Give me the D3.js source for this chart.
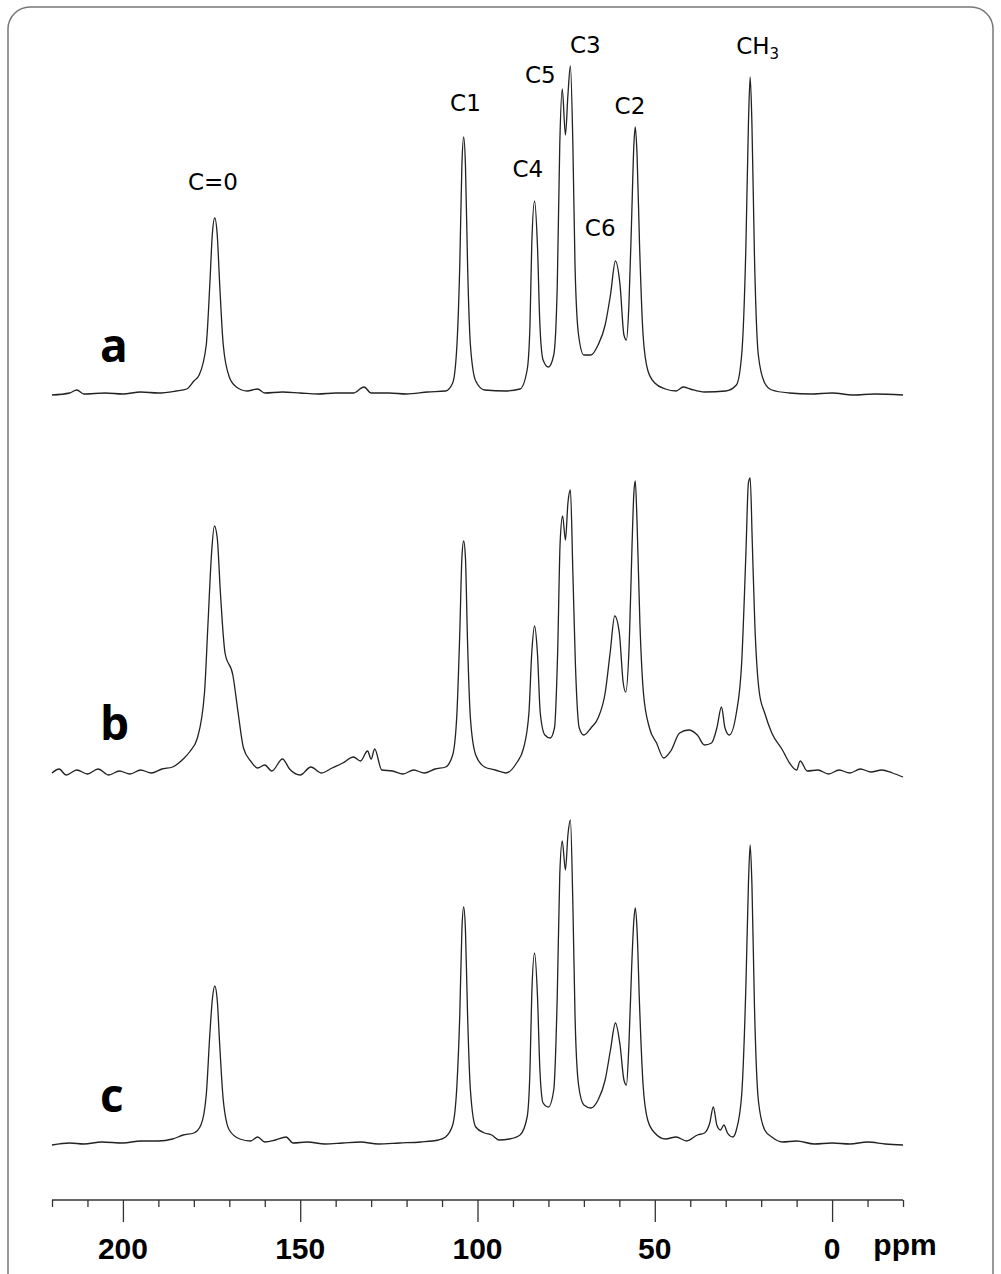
<!DOCTYPE html>
<html><head><meta charset="utf-8">
<script src="https://cdn.jsdelivr.net/npm/d3@7"></script>
<style>body{margin:0;background:#fff}</style>
</head><body>
<div id="chart"></div>
<script>
// spectra as [ppm, intensity]
var traceA = [[220,0],[215,2],[213,5],[211,1],[205,2],[200,1],[195,3],[190,2],[185,4],[182,6],[180,14],[178.5,20],[176.5,50],[175.5,110],[174.8,160],[174.1,177],[173.4,160],[172.7,110],[171.7,50],[170,18],[168,8],[165,4],[162,6],[160,2],[155,3],[150,2],[145,1],[140,2],[135,2],[132,8],[130,2],[125,2],[120,1],[114,3],
  [109,4],[107,12],[105.8,50],[105,130],[104.4,230],[103.9,258],[103.4,230],[102.8,130],[102,50],[100.5,14],[98,5],
  [92,4],[88,6],[86,25],[85.2,70],[84.7,150],[83.9,194],[83.1,150],[82.4,70],[81.5,35],[80,28],[78.5,40],[77.5,110],[76.8,250],[76.1,306],[75.2,260],[74.5,300],[73.8,329],[73.1,250],[72.5,130],[71.5,60],[70,40],[68,40],[66,50],[64,70],[62.5,100],[61.1,134],[59.8,110],[58.7,60],[58,55],[57.3,90],[56.5,180],[55.9,250],[55.5,268],[55,240],[54.3,150],[53.3,60],[52,25],[50,12],[47,6],[44,4],[42,8],[40,6],[36,3],[30,4],[27,10],[25.5,40],[24.3,150],[23.6,270],[23.1,318],[22.6,270],[21.9,140],[20.8,40],[19,12],[17,5],[12,2],[6,1],[0,2],[-6,0],[-12,1],[-20,0]];
var traceB = [[220,0],[218,4],[216,-2],[213,3],[210,-1],[207,4],[204,-2],[201,2],[198,-1],[195,3],[192,0],[189,4],[186,6],[183,14],[181,22],[179,35],[177,80],[176,150],[175,220],[174.2,247],[173.4,235],[172.5,180],[171.2,120],[169,98],[167.5,60],[166,25],[164,12],[162,5],[160,8],[158,2],[155,14],[153,4],[150,-2],[147,6],[144,0],[141,5],[138,10],[135,16],[133,12],[131,22],[130,14],[129,24],[127,3],[124,2],[121,-1],[118,3],[115,0],[112,4],[109,6],
  [107,18],[105.8,60],[105,140],[104.4,215],[103.9,232],[103.4,215],[102.8,130],[102,55],[100.5,18],[98,6],[95,3],[92,0],[89,10],
  [87,25],[85.5,60],[84.7,120],[83.9,147],[83.1,120],[82.3,60],[81,38],[79.5,35],[78.3,45],[77.4,120],[76.7,230],[76,257],[75.2,233],[74.5,270],[73.8,283],[73.1,200],[72.4,110],[71.3,45],[70,38],[68,45],[66,55],[64,80],[62.6,120],[61.3,157],[60,140],[58.9,90],[58.2,81],[57.2,130],[56.4,230],[55.9,280],[55.5,292],[55,250],[54.2,150],[53.2,80],[51.5,45],[49.5,30],[47.5,15],[45.5,22],[43,40],[40.5,43],[38,38],[36,28],[34,30],[32.5,45],[31.2,66],[30.2,45],[29,38],[27,60],[25.5,110],[24.3,220],[23.6,290],[23.1,295],[22.5,230],[21.8,150],[20.5,80],[19,60],[17,40],[14,23],[12,10],[10,3],[9,12],[7,2],[4,3],[1,-1],[-2,3],[-5,0],[-8,4],[-11,1],[-14,3],[-17,0],[-20,-4]];
var traceC = [[220,0],[215,2],[211,1],[206,3],[200,2],[195,4],[190,4],[186,6],[183,10],[180,12],[178,20],[176.5,50],[175.5,110],[174.8,145],[174.1,159],[173.4,145],[172.7,100],[171.7,45],[170,15],[167,6],[164,4],[162,8],[160,3],[157,5],[154,8],[152,2],[148,3],[143,1],[138,2],[133,3],[128,1],[122,2],[116,3],[111,5],
  [109,8],[107,20],[105.8,60],[105,130],[104.4,215],[103.9,238],[103.4,215],[102.8,130],[102,55],[100.5,18],[98,12],[96,10],[94,5],[91,6],[88,10],
  [86,28],[85.2,75],[84.7,150],[83.9,192],[83.1,150],[82.4,75],[81.5,42],[80,38],[78.5,55],[77.5,150],[76.8,270],[76.1,304],[75.2,275],[74.5,310],[73.8,325],[73.1,240],[72.5,130],[71.5,60],[70,40],[68,37],[66,45],[64,65],[62.5,95],[61.1,122],[59.8,100],[58.7,65],[58,60],[57.3,100],[56.5,180],[55.9,225],[55.5,237],[55,215],[54.3,140],[53.3,60],[52,25],[50,12],[47,6],[44,8],[41,4],[38,10],[36,12],[34.5,22],[33.5,38],[32.5,20],[31.5,15],[30.5,20],[29.5,12],[28,8],[27,15],[25.5,50],[24.3,160],[23.6,260],[23.1,300],[22.6,260],[21.9,140],[20.8,45],[19,15],[17,8],[14,3],[10,4],[5,1],[0,2],[-5,1],[-10,3],[-15,1],[-20,0]];

var spectra = [
  {name: 'a', data: traceA, base: 395},
  {name: 'b', data: traceB, base: 773},
  {name: 'c', data: traceC, base: 1145}
];
var peakLabels = [
  {text: 'C=0', ppm: 174.6, y: 190},
  {text: 'C1', ppm: 103.4, y: 111},
  {text: 'C4', ppm: 85.8, y: 177},
  {text: 'C5', ppm: 82.3, y: 83},
  {text: 'C3', ppm: 69.6, y: 53},
  {text: 'C6', ppm: 65.4, y: 236},
  {text: 'C2', ppm: 57, y: 114},
  {text: 'CH', sub: '3', ppm: 21, y: 54}
];
var majorTicks = [200, 150, 100, 50, 0];

var W = 1001, H = 1274;
var svg = d3.select('#chart').append('svg').attr('width', W).attr('height', H);

svg.append('rect')
  .attr('x', 8).attr('y', 7).attr('width', 985).attr('height', H + 20)
  .attr('rx', 22).attr('fill', 'none').attr('stroke', '#777').attr('stroke-width', 1.5);

var x = d3.scaleLinear().domain([220, -20]).range([52, 903]);

spectra.forEach(function (s) {
  var y = d3.scaleLinear().domain([0, 350]).range([s.base, s.base - 350]);
  var line = d3.line().curve(d3.curveMonotoneX)
    .x(function (d) { return x(d[0]); }).y(function (d) { return y(d[1]); });
  svg.append('path').datum(s.data).attr('d', line)
    .attr('fill', 'none').attr('stroke', '#222').attr('stroke-width', 1.3);
  svg.append('text').text(s.name)
    .attr('x', 100).attr('y', s.base - 33)
    .style('font-family', 'Open Sans').style('font-weight', 'bold').style('font-size', '46px');
});

peakLabels.forEach(function (p) {
  var t = svg.append('text').attr('x', x(p.ppm)).attr('y', p.y)
    .attr('text-anchor', 'middle')
    .style('font-family', 'DejaVu Sans').style('font-size', '23px').text(p.text);
  if (p.sub) t.append('tspan').attr('dy', 5).style('font-size', '15px').text(p.sub);
});

// axis
var axisY = 1200;
var axis = d3.axisBottom(x).tickValues(d3.range(220, -21, -10)).tickSize(7).tickFormat('');
var g = svg.append('g').attr('transform', 'translate(0,' + axisY + ')').call(axis);
g.select('.domain').attr('d', 'M52,0H903').attr('stroke', '#333').attr('stroke-width', 1.3);
g.selectAll('.tick line').attr('stroke', '#333').attr('stroke-width', 1.3)
  .attr('y2', function (d) { return d % 50 === 0 ? 22 : 7; });
majorTicks.forEach(function (v) {
  svg.append('text').attr('x', x(v)).attr('y', 1259).attr('text-anchor', 'middle')
    .style('font-family', 'Liberation Sans').style('font-weight', 'bold').style('font-size', '30px').text(v);
});
svg.append('text').attr('x', 905).attr('y', 1255).attr('text-anchor', 'middle')
  .style('font-family', 'Liberation Sans').style('font-weight', 'bold').style('font-size', '30px').text('ppm');
</script>
</body></html>
